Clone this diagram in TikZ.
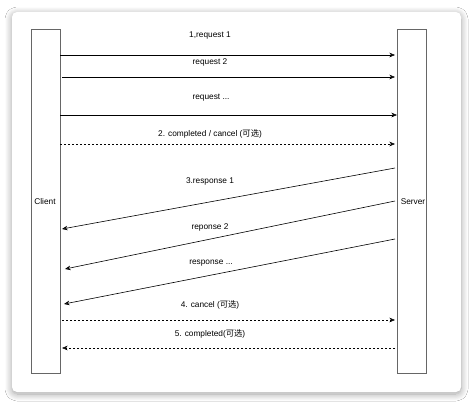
\documentclass[tikz,border=0pt]{standalone}
\usepackage{fontspec}
\setmainfont{Liberation Sans}
\newfontfamily\cjk{Noto Sans CJK SC}
\usetikzlibrary{arrows.meta,shadows.blur}
\newcommand{\kexuan}{{\cjk 可选}}

\begin{document}
\begin{tikzpicture}[x=1pt,y=-1pt,
  lifeline/.style={draw=black!60,line width=0.9pt,minimum width=29pt,minimum height=344pt,inner sep=0pt},
  msg/.style={-{Stealth[length=5.5pt,width=4.5pt,inset=1.5pt]},line width=0.6pt},
  optmsg/.style={msg,dash pattern=on 2pt off 2pt},
  lbl/.style={font=\fontsize{8.3}{10}\selectfont,inner sep=1pt}]
  \useasboundingbox (0,0) rectangle (474,405);
  \fill[white] (0,0) rectangle (474,405);
  % card
  \fill[white,rounded corners=5pt,blur shadow={shadow xshift=0pt,shadow yshift=-2pt,
    shadow blur radius=7pt,shadow blur steps=12,shadow opacity=38}] (12,12) rectangle (461,392);

  % lifelines
  \node[lifeline] (client) at (45.5,201) {};
  \node[lifeline] (server) at (411.5,201) {};
  \node[lbl] (clienttxt) at (45,202) {Client};
  \node[lbl] (servertxt) at (413,202) {Server};

  % end points
  \coordinate (c1) at (60,55);  \coordinate (s1) at (395,55);
  \coordinate (c2) at (62,77);  \coordinate (s2) at (395,77);
  \coordinate (c3) at (60,115); \coordinate (s3) at (397,115);
  \coordinate (c4) at (60,144); \coordinate (s4) at (395,144);
  \coordinate (s5) at (395,168); \coordinate (c5) at (62,229);
  \coordinate (s6) at (395,201); \coordinate (c6) at (65,269);
  \coordinate (s7) at (395,239); \coordinate (c7) at (64,304);
  \coordinate (c8) at (62,320); \coordinate (s8) at (395,320);
  \coordinate (s9) at (395,348); \coordinate (c9) at (62,348);

  % messages
  \draw[msg] (c1) -- (s1); \draw[msg] (c2) -- (s2); \draw[msg] (c3) -- (s3);
  \draw[optmsg] (c4) -- (s4);
  \draw[msg] (s5) -- (c5); \draw[msg] (s6) -- (c6); \draw[msg] (s7) -- (c7);
  \draw[optmsg] (c8) -- (s8);
  \draw[optmsg] (s9) -- (c9);

  % labels
  \node[lbl] (l1) at (210,36) {1,request 1};
  \node[lbl] (l2) at (210,62) {request 2};
  \node[lbl] (l3) at (211,98) {request ...};
  \node[lbl] (l4) at (210,134) {2. completed / cancel (\kexuan)};
  \node[lbl] (l5) at (210,181) {3.response 1};
  \node[lbl] (l6) at (210,227) {reponse 2};
  \node[lbl] (l7) at (211,263) {response ...};
  \node[lbl] (l8) at (210,305) {4. cancel (\kexuan)};
  \node[lbl] (l9) at (210,334) {5. completed(\kexuan)};
\end{tikzpicture}
\end{document}
